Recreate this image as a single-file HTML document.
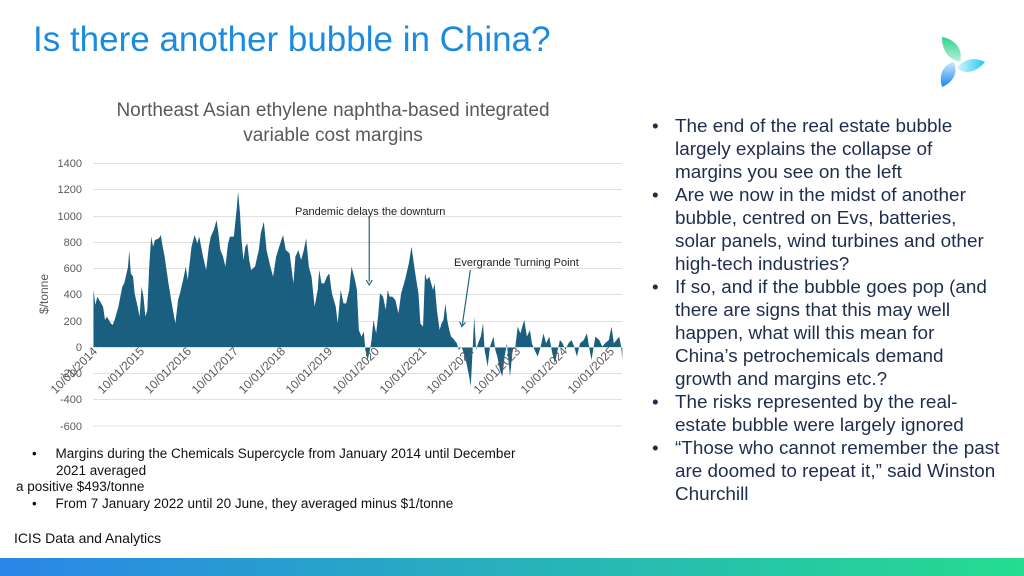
<!DOCTYPE html>
<html><head><meta charset="utf-8"><style>
body{margin:0;width:1024px;height:576px;overflow:hidden;background:#fff;position:relative;font-family:"Liberation Sans",sans-serif}
.t{position:absolute;left:33px;top:20px;font-size:35px;color:#1a8be0}
.ct{position:absolute;left:60px;top:98px;width:546px;text-align:center;font-size:19px;line-height:25px;color:#595959}
.r{position:absolute;left:652px;top:115px;font-size:18.9px;line-height:23px;color:#1f2d4d;white-space:nowrap}
.r div{position:relative;padding-left:23px}
.r div:before{content:"•";position:absolute;left:0}
.b{position:absolute;left:16px;top:446px;font-size:13.5px;line-height:16.5px;color:#111;font-family:"Liberation Sans Narrow","Liberation Sans",sans-serif}
.foot{position:absolute;left:14px;top:530px;font-size:14px;color:#111}
.bar{position:absolute;left:0;top:558px;width:1024px;height:18px;background:linear-gradient(90deg,#2a86e8,#25dc8f)}
</style></head><body>
<div class="t">Is there another bubble in China?</div>
<div class="ct">Northeast Asian ethylene naphtha-based integrated<br>variable cost margins</div>
<svg style="position:absolute;left:0;top:0" width="640" height="450" font-family="Liberation Sans,sans-serif">
<g stroke="#e0e0e0" stroke-width="1">
<line x1="93" x2="622" y1="163.5" y2="163.5"/><line x1="93" x2="622" y1="189.5" y2="189.5"/><line x1="93" x2="622" y1="216.5" y2="216.5"/><line x1="93" x2="622" y1="242.5" y2="242.5"/><line x1="93" x2="622" y1="268.5" y2="268.5"/><line x1="93" x2="622" y1="294.5" y2="294.5"/><line x1="93" x2="622" y1="321.5" y2="321.5"/><line x1="93" x2="622" y1="373.5" y2="373.5"/><line x1="93" x2="622" y1="399.5" y2="399.5"/><line x1="93" x2="622" y1="426" y2="426"/>
</g>
<g font-size="11" fill="#595959" text-anchor="end">
<text x="82" y="167">1400</text><text x="82" y="193">1200</text><text x="82" y="220">1000</text><text x="82" y="246">800</text><text x="82" y="272">600</text><text x="82" y="298">400</text><text x="82" y="325">200</text><text x="82" y="351">0</text><text x="82" y="377">-200</text><text x="82" y="403">-400</text><text x="82" y="430">-600</text>
</g>
<text transform="translate(48,294) rotate(-90)" font-size="12" fill="#595959" text-anchor="middle">$/tonne</text>
<g transform="translate(30,150) scale(0.3846,0.3333)">
<path fill="#1a5f80" d="M165,592 165,420 170,465 175,440 185,460 190,470 195,510 200,500 210,520 215,525 220,510 230,470 240,410 245,400 255,350 258,300 262,370 268,380 272,430 278,460 285,500 290,410 295,440 300,500 305,480 310,350 315,260 320,290 325,270 335,265 340,255 345,290 350,320 360,400 370,470 378,520 385,450 390,430 400,380 405,350 410,390 420,290 428,255 435,280 440,260 450,320 458,360 465,290 470,260 478,240 485,210 490,250 495,300 502,320 508,350 515,280 520,260 530,260 538,170 541,125 546,190 550,270 555,330 560,290 565,280 570,330 575,360 585,350 595,300 600,250 608,215 615,300 625,350 632,380 640,320 648,290 658,255 665,300 675,310 685,400 690,320 698,300 705,330 712,300 718,265 725,350 732,380 740,470 748,420 752,360 758,400 765,400 772,380 778,370 785,430 795,470 800,520 808,420 815,460 822,460 830,420 836,350 845,390 850,420 855,540 862,560 868,545 872,600 878,630 884,600 888,570 893,510 900,550 905,500 910,430 918,440 925,480 930,420 935,440 942,440 950,450 958,490 965,430 975,390 985,340 992,290 998,340 1003,380 1010,430 1015,520 1022,530 1027,370 1032,390 1038,380 1048,420 1052,400 1058,480 1065,540 1070,520 1075,510 1080,460 1085,510 1090,540 1095,560 1100,565 1110,580 1115,600 1122,590 1128,610 1135,640 1142,680 1146,710 1150,620 1155,500 1160,600 1165,580 1172,560 1178,520 1182,600 1190,650 1196,590 1205,560 1210,600 1215,620 1222,660 1228,680 1234,620 1240,580 1248,680 1255,600 1262,590 1268,530 1275,550 1285,510 1292,560 1300,540 1305,580 1312,600 1320,620 1328,590 1335,550 1342,580 1350,560 1358,610 1365,640 1372,600 1378,570 1385,580 1392,600 1400,580 1408,570 1415,590 1422,620 1430,580 1440,570 1448,550 1455,600 1460,630 1470,560 1480,570 1488,590 1495,580 1505,570 1512,530 1518,580 1525,570 1532,560 1537,590 1540,630 1540,592Z"/>
<line x1="165" x2="1540" y1="592" y2="592" stroke="#d0d0d0" stroke-width="2"/>
<line x1="882" y1="200" x2="882" y2="395" stroke="#1a5f80" stroke-width="3"/>
<path d="M874,390 L882,405 L890,390" fill="none" stroke="#1a5f80" stroke-width="3"/>
<line x1="1145" y1="360" x2="1124" y2="525" stroke="#1a5f80" stroke-width="3"/>
<path d="M1117,515 L1123,530 L1132,517" fill="none" stroke="#1a5f80" stroke-width="3"/>
</g>
<text x="295" y="215" font-size="11" fill="#222">Pandemic delays the downturn</text>
<text x="454" y="266" font-size="11" fill="#222">Evergrande Turning Point</text>
<g font-size="12" fill="#595959" text-anchor="end">
<text transform="translate(98,352) rotate(-45)">10/01/2014</text>
<text transform="translate(145,352) rotate(-45)">10/01/2015</text>
<text transform="translate(192,352) rotate(-45)">10/01/2016</text>
<text transform="translate(239,352) rotate(-45)">10/01/2017</text>
<text transform="translate(286,352) rotate(-45)">10/01/2018</text>
<text transform="translate(333,352) rotate(-45)">10/01/2019</text>
<text transform="translate(380,352) rotate(-45)">10/01/2020</text>
<text transform="translate(427,352) rotate(-45)">10/01/2021</text>
<text transform="translate(474,352) rotate(-45)">10/01/2022</text>
<text transform="translate(521,352) rotate(-45)">10/01/2023</text>
<text transform="translate(568,352) rotate(-45)">10/01/2024</text>
<text transform="translate(615,352) rotate(-45)">10/01/2025</text>
</g>
</svg>
<svg style="position:absolute;left:930px;top:30px" width="60" height="60" viewBox="0 0 60 60">
<defs><linearGradient id="g1" x1="0" y1="0" x2="0" y2="1"><stop offset="0" stop-color="#2fd08f"/><stop offset="1" stop-color="#bff0dc"/></linearGradient>
<linearGradient id="g2" x1="1" y1="0" x2="0" y2="0"><stop offset="0" stop-color="#22c8f0"/><stop offset="1" stop-color="#d8f4fc"/></linearGradient>
<linearGradient id="g3" x1="0" y1="1" x2="0" y2="0"><stop offset="0" stop-color="#1a88f0"/><stop offset="1" stop-color="#cfe6fc"/></linearGradient></defs>
<path d="M12,7 C28,10 33,22 30,32 C20,30 12,22 12,7Z" fill="url(#g1)"/>
<path d="M55,32 C45,44 33,44 27,38 C32,30 44,26 55,32Z" fill="url(#g2)"/>
<path d="M12,57 C8,44 14,34 24,32 C28,42 24,52 12,57Z" fill="url(#g3)"/>
</svg>
<div class="r">
<div>The end of the real estate bubble<br>largely explains the collapse of<br>margins you see on the left</div>
<div>Are we now in the midst of another<br>bubble, centred on Evs, batteries,<br>solar panels, wind turbines and other<br>high-tech industries?</div>
<div>If so, and if the bubble goes pop (and<br>there are signs that this may well<br>happen, what will this mean for<br>China’s petrochemicals demand<br>growth and margins etc.?</div>
<div>The risks represented by the real-<br>estate bubble were largely ignored</div>
<div>“Those who cannot remember the past<br>are doomed to repeat it,” said Winston<br>Churchill</div>
</div>
<div class="b">
<div style="padding-left:16px">•&nbsp;&nbsp;&nbsp;&nbsp;&nbsp;Margins during the Chemicals Supercycle from January 2014 until December<br><span style="padding-left:24px">2021 averaged</span></div>
<div>a positive $493/tonne</div>
<div style="padding-left:16px">•&nbsp;&nbsp;&nbsp;&nbsp;&nbsp;From 7 January 2022 until 20 June, they averaged minus $1/tonne</div>
</div>
<div class="foot">ICIS Data and Analytics</div>
<div class="bar"></div>
</body></html>
